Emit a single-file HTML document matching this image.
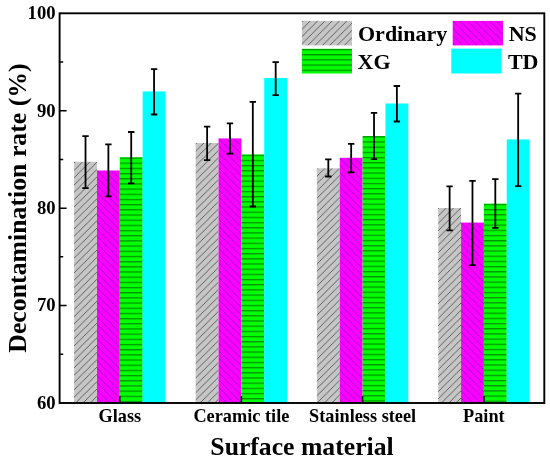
<!DOCTYPE html>
<html><head><meta charset="utf-8"><title>Decontamination rate chart</title>
<style>
html,body{margin:0;padding:0;background:#fff;}
body{width:550px;height:462px;overflow:hidden;}
svg{display:block;}
text{font-family:"Liberation Serif", "Times New Roman", serif;font-weight:bold;fill:#000;}
</style></head><body>
<svg width="550" height="462" viewBox="0 0 550 462">
<rect x="0" y="0" width="550" height="462" fill="#fff"/>

<defs>
<pattern id="p1" patternUnits="userSpaceOnUse" x="0.00" y="3.07" width="7.316" height="7.316"><rect width="7.316" height="7.316" fill="#c6c6c6"/><path d="M-3.658,3.658 L3.658,-3.658 M0,7.316 L7.316,0 M3.658,10.974 L10.974,3.658" stroke="#565656" stroke-width="1" fill="none" shape-rendering="crispEdges"/></pattern>
<pattern id="p2" patternUnits="userSpaceOnUse" x="96.95" y="170.50" width="7.316" height="7.316"><rect width="7.316" height="7.316" fill="#ff00ff"/><path d="M-3.658,3.658 L3.658,10.974 M0,0 L7.316,7.316 M3.658,-3.658 L10.974,3.658" stroke="#9012c4" stroke-width="1" fill="none" shape-rendering="crispEdges"/></pattern>
<pattern id="p3" patternUnits="userSpaceOnUse" x="119.80" y="157.40" width="10" height="5.18"><rect width="10" height="5.18" fill="#00ff00"/><rect y="0" width="10" height="1.3" fill="#009400"/></pattern>
<pattern id="p4" patternUnits="userSpaceOnUse" x="0.00" y="3.07" width="7.316" height="7.316"><rect width="7.316" height="7.316" fill="#c6c6c6"/><path d="M-3.658,3.658 L3.658,-3.658 M0,7.316 L7.316,0 M3.658,10.974 L10.974,3.658" stroke="#565656" stroke-width="1" fill="none" shape-rendering="crispEdges"/></pattern>
<pattern id="p5" patternUnits="userSpaceOnUse" x="218.55" y="138.40" width="7.316" height="7.316"><rect width="7.316" height="7.316" fill="#ff00ff"/><path d="M-3.658,3.658 L3.658,10.974 M0,0 L7.316,7.316 M3.658,-3.658 L10.974,3.658" stroke="#9012c4" stroke-width="1" fill="none" shape-rendering="crispEdges"/></pattern>
<pattern id="p6" patternUnits="userSpaceOnUse" x="241.40" y="154.60" width="10" height="5.18"><rect width="10" height="5.18" fill="#00ff00"/><rect y="0" width="10" height="1.3" fill="#009400"/></pattern>
<pattern id="p7" patternUnits="userSpaceOnUse" x="0.00" y="3.07" width="7.316" height="7.316"><rect width="7.316" height="7.316" fill="#c6c6c6"/><path d="M-3.658,3.658 L3.658,-3.658 M0,7.316 L7.316,0 M3.658,10.974 L10.974,3.658" stroke="#565656" stroke-width="1" fill="none" shape-rendering="crispEdges"/></pattern>
<pattern id="p8" patternUnits="userSpaceOnUse" x="339.75" y="157.80" width="7.316" height="7.316"><rect width="7.316" height="7.316" fill="#ff00ff"/><path d="M-3.658,3.658 L3.658,10.974 M0,0 L7.316,7.316 M3.658,-3.658 L10.974,3.658" stroke="#9012c4" stroke-width="1" fill="none" shape-rendering="crispEdges"/></pattern>
<pattern id="p9" patternUnits="userSpaceOnUse" x="362.60" y="136.20" width="10" height="5.18"><rect width="10" height="5.18" fill="#00ff00"/><rect y="0" width="10" height="1.3" fill="#009400"/></pattern>
<pattern id="p10" patternUnits="userSpaceOnUse" x="0.00" y="3.07" width="7.316" height="7.316"><rect width="7.316" height="7.316" fill="#c6c6c6"/><path d="M-3.658,3.658 L3.658,-3.658 M0,7.316 L7.316,0 M3.658,10.974 L10.974,3.658" stroke="#565656" stroke-width="1" fill="none" shape-rendering="crispEdges"/></pattern>
<pattern id="p11" patternUnits="userSpaceOnUse" x="461.05" y="222.60" width="7.316" height="7.316"><rect width="7.316" height="7.316" fill="#ff00ff"/><path d="M-3.658,3.658 L3.658,10.974 M0,0 L7.316,7.316 M3.658,-3.658 L10.974,3.658" stroke="#9012c4" stroke-width="1" fill="none" shape-rendering="crispEdges"/></pattern>
<pattern id="p12" patternUnits="userSpaceOnUse" x="483.90" y="203.80" width="10" height="5.18"><rect width="10" height="5.18" fill="#00ff00"/><rect y="0" width="10" height="1.3" fill="#009400"/></pattern>
<pattern id="p13" patternUnits="userSpaceOnUse" x="0.00" y="2.00" width="7.316" height="7.316"><rect width="7.316" height="7.316" fill="#c6c6c6"/><path d="M-3.658,3.658 L3.658,-3.658 M0,7.316 L7.316,0 M3.658,10.974 L10.974,3.658" stroke="#565656" stroke-width="1" fill="none" shape-rendering="crispEdges"/></pattern>
<pattern id="p14" patternUnits="userSpaceOnUse" x="301.90" y="48.90" width="10" height="5.18"><rect width="10" height="5.18" fill="#00ff00"/><rect y="0" width="10" height="1.3" fill="#009400"/></pattern>
<pattern id="p15" patternUnits="userSpaceOnUse" x="452.70" y="20.90" width="7.316" height="7.316"><rect width="7.316" height="7.316" fill="#ff00ff"/><path d="M-3.658,3.658 L3.658,10.974 M0,0 L7.316,7.316 M3.658,-3.658 L10.974,3.658" stroke="#9012c4" stroke-width="1" fill="none" shape-rendering="crispEdges"/></pattern>
</defs>
<rect x="74.10" y="161.80" width="22.85" height="241.20" fill="url(#p1)"/>
<rect x="96.95" y="170.50" width="22.85" height="232.50" fill="url(#p2)"/>
<rect x="119.80" y="157.20" width="22.85" height="245.80" fill="url(#p3)"/>
<rect x="142.65" y="91.40" width="22.85" height="311.60" fill="#00ffff"/>
<rect x="195.70" y="143.00" width="22.85" height="260.00" fill="url(#p4)"/>
<rect x="218.55" y="138.40" width="22.85" height="264.60" fill="url(#p5)"/>
<rect x="241.40" y="154.40" width="22.85" height="248.60" fill="url(#p6)"/>
<rect x="264.25" y="78.00" width="22.85" height="325.00" fill="#00ffff"/>
<rect x="316.90" y="168.30" width="22.85" height="234.70" fill="url(#p7)"/>
<rect x="339.75" y="157.80" width="22.85" height="245.20" fill="url(#p8)"/>
<rect x="362.60" y="136.00" width="22.85" height="267.00" fill="url(#p9)"/>
<rect x="385.45" y="103.50" width="22.85" height="299.50" fill="#00ffff"/>
<rect x="438.20" y="208.00" width="22.85" height="195.00" fill="url(#p10)"/>
<rect x="461.05" y="222.60" width="22.85" height="180.40" fill="url(#p11)"/>
<rect x="483.90" y="203.60" width="22.85" height="199.40" fill="url(#p12)"/>
<rect x="506.75" y="139.40" width="22.85" height="263.60" fill="#00ffff"/>
<path d="M85.52,136.20 V188.10 M82.32,136.20 H88.72 M82.32,188.10 H88.72" stroke="#000" stroke-width="1.8" fill="none"/>
<path d="M108.38,144.40 V196.30 M105.17,144.40 H111.58 M105.17,196.30 H111.58" stroke="#000" stroke-width="1.8" fill="none"/>
<path d="M131.22,132.00 V183.40 M128.03,132.00 H134.42 M128.03,183.40 H134.42" stroke="#000" stroke-width="1.8" fill="none"/>
<path d="M154.07,69.10 V114.50 M150.88,69.10 H157.27 M150.88,114.50 H157.27" stroke="#000" stroke-width="1.8" fill="none"/>
<path d="M207.12,126.60 V160.20 M203.93,126.60 H210.32 M203.93,160.20 H210.32" stroke="#000" stroke-width="1.8" fill="none"/>
<path d="M229.97,123.30 V153.70 M226.78,123.30 H233.17 M226.78,153.70 H233.17" stroke="#000" stroke-width="1.8" fill="none"/>
<path d="M252.82,101.90 V206.50 M249.62,101.90 H256.02 M249.62,206.50 H256.02" stroke="#000" stroke-width="1.8" fill="none"/>
<path d="M275.68,62.10 V95.10 M272.48,62.10 H278.88 M272.48,95.10 H278.88" stroke="#000" stroke-width="1.8" fill="none"/>
<path d="M328.32,159.40 V176.50 M325.12,159.40 H331.52 M325.12,176.50 H331.52" stroke="#000" stroke-width="1.8" fill="none"/>
<path d="M351.17,143.80 V172.40 M347.97,143.80 H354.37 M347.97,172.40 H354.37" stroke="#000" stroke-width="1.8" fill="none"/>
<path d="M374.02,112.80 V159.10 M370.82,112.80 H377.22 M370.82,159.10 H377.22" stroke="#000" stroke-width="1.8" fill="none"/>
<path d="M396.88,86.00 V121.50 M393.68,86.00 H400.07 M393.68,121.50 H400.07" stroke="#000" stroke-width="1.8" fill="none"/>
<path d="M449.62,186.40 V230.40 M446.43,186.40 H452.82 M446.43,230.40 H452.82" stroke="#000" stroke-width="1.8" fill="none"/>
<path d="M472.48,180.90 V265.20 M469.28,180.90 H475.68 M469.28,265.20 H475.68" stroke="#000" stroke-width="1.8" fill="none"/>
<path d="M495.32,179.10 V227.90 M492.12,179.10 H498.52 M492.12,227.90 H498.52" stroke="#000" stroke-width="1.8" fill="none"/>
<path d="M518.17,93.60 V186.10 M514.97,93.60 H521.38 M514.97,186.10 H521.38" stroke="#000" stroke-width="1.8" fill="none"/>
<rect x="59.60" y="13.30" width="484.70" height="389.70" fill="none" stroke="#000" stroke-width="1.9"/>
<path d="M59.60,354.29 H63.20 M59.60,305.57 H66.60 M59.60,256.86 H63.20 M59.60,208.15 H66.60 M59.60,159.44 H63.20 M59.60,110.73 H66.60 M59.60,62.01 H63.20 M119.80,403.00 V396.00 M241.40,403.00 V396.00 M362.60,403.00 V396.00 M483.90,403.00 V396.00" stroke="#000" stroke-width="1.5" fill="none"/>
<text x="55.6" y="408.80" font-size="18.7" text-anchor="end">60</text>
<text x="55.6" y="311.38" font-size="18.7" text-anchor="end">70</text>
<text x="55.6" y="213.95" font-size="18.7" text-anchor="end">80</text>
<text x="55.6" y="116.53" font-size="18.7" text-anchor="end">90</text>
<text x="55.6" y="19.10" font-size="18.7" text-anchor="end">100</text>
<text x="119.80" y="422.3" font-size="18.3" text-anchor="middle">Glass</text>
<text x="241.40" y="422.3" font-size="18.3" text-anchor="middle">Ceramic tile</text>
<text x="362.60" y="422.3" font-size="18.3" text-anchor="middle">Stainless steel</text>
<text x="483.90" y="422.3" font-size="18.3" text-anchor="middle">Paint</text>
<text x="302" y="454.8" font-size="25.7" text-anchor="middle">Surface material</text>
<text transform="translate(25.9,208.0) rotate(-90)" x="0" y="0" font-size="25.8" text-anchor="middle">Decontamination rate (%)</text>
<rect x="301.9" y="20.9" width="50.1" height="24.5" fill="url(#p13)"/>
<rect x="301.9" y="48.8" width="50.1" height="24.7" fill="url(#p14)"/>
<rect x="452.7" y="20.9" width="50.3" height="24.5" fill="url(#p15)"/>
<rect x="451.3" y="48.6" width="50.3" height="24.9" fill="#00ffff"/>
<text x="358" y="40.6" font-size="22">Ordinary</text>
<text x="357.6" y="68.5" font-size="22">XG</text>
<text x="508.7" y="40.9" font-size="22">NS</text>
<text x="507.9" y="68.8" font-size="22">TD</text>
</svg>
</body></html>
